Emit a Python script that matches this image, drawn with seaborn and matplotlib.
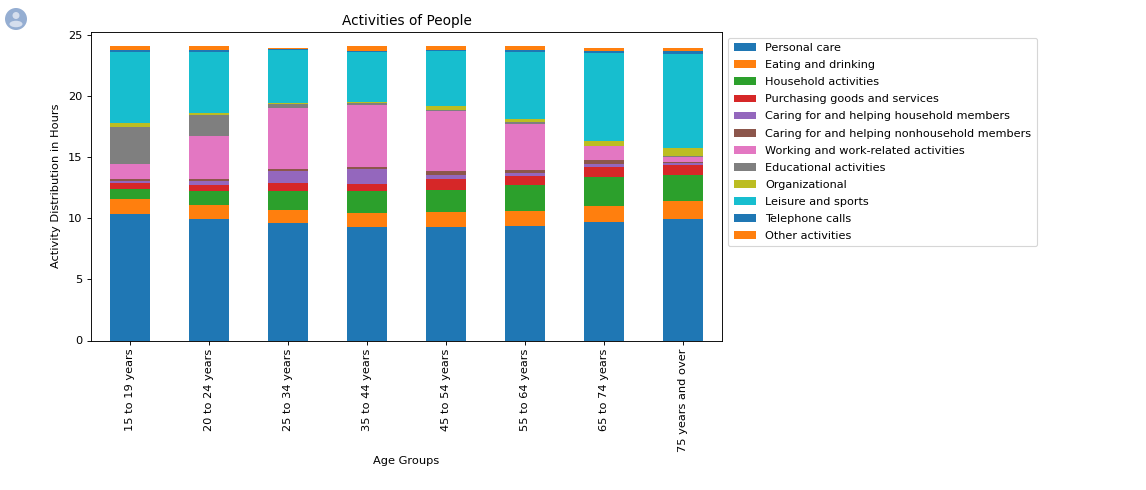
import numpy as np
import matplotlib
matplotlib.use("Agg")
from matplotlib import pyplot as plt
from matplotlib.patches import Circle, Ellipse
from matplotlib.transforms import IdentityTransform
import seaborn as sns

age_groups = ['15 to 19 years', '20 to 24 years', '25 to 34 years', '35 to 44 years',
              '45 to 54 years', '55 to 64 years', '65 to 74 years', '75 years and over']

personal_care = [10.34, 9.96, 9.60, 9.30, 9.30, 9.41, 9.69, 9.96]
eating = [1.23, 1.12, 1.10, 1.12, 1.23, 1.20, 1.31, 1.42]
household = [0.82, 1.12, 1.50, 1.78, 1.75, 2.14, 2.40, 2.13]
purchasing = [0.54, 0.55, 0.73, 0.65, 0.96, 0.73, 0.82, 0.82]
caring_hh = [0.13, 0.32, 0.94, 1.21, 0.33, 0.19, 0.22, 0.16]
caring_nonhh = [0.18, 0.17, 0.19, 0.11, 0.30, 0.31, 0.36, 0.14]
working = [1.20, 3.52, 5.00, 5.08, 4.91, 3.77, 1.09, 0.41]
educational = [3.06, 1.72, 0.27, 0.16, 0.11, 0.13, 0.03, 0.03]
organizational = [0.27, 0.14, 0.14, 0.14, 0.28, 0.28, 0.43, 0.65]
leisure = [5.83, 4.98, 4.28, 4.04, 4.56, 5.46, 7.16, 7.71]
telephone = [0.20, 0.20, 0.09, 0.14, 0.08, 0.19, 0.22, 0.30]
other = [0.28, 0.28, 0.14, 0.35, 0.27, 0.27, 0.25, 0.25]

series = [('Personal care', personal_care),
          ('Eating and drinking', eating),
          ('Household activities', household),
          ('Purchasing goods and services', purchasing),
          ('Caring for and helping household members', caring_hh),
          ('Caring for and helping nonhousehold members', caring_nonhh),
          ('Working and work-related activities', working),
          ('Educational activities', educational),
          ('Organizational', organizational),
          ('Leisure and sports', leisure),
          ('Telephone calls', telephone),
          ('Other activities', other)]

colors = sns.color_palette('tab10')

DPI = 81.5
fig = plt.figure(figsize=(1146 / DPI, 490 / DPI), dpi=DPI)
ax = fig.add_axes([90.5 / 1146, 1 - 340.5 / 490, 632 / 1146, 308.5 / 490])

# stack the bars by hand, seaborn has no stacked barplot
bottom = np.zeros(len(age_groups))
for i, (name, vals) in enumerate(series):
    sns.barplot(x=age_groups, y=vals, bottom=bottom, color=colors[i % 10], saturation=1,
                width=0.5, label=name, ax=ax, linewidth=0, legend=False)
    bottom = bottom + np.array(vals)

ax.set_xlim(-0.5, 7.5)
ax.set_ylim(0, 25.25)
ax.tick_params(axis='x', rotation=90)
ax.set_title('Activities of People')
ax.set_xlabel('Age Groups')
ax.set_ylabel('Activity Distribution in Hours', labelpad=6)

handles, labels = ax.get_legend_handles_labels()
ax.legend(handles[:12], labels[:12], loc='upper left', bbox_to_anchor=(1.0, 1.0),
          fontsize=9.9, labelspacing=0.63, borderpad=0.5)

# avatar icon in the corner of the screenshot
px = IdentityTransform()
fig.add_artist(Circle((16, 490 - 19), 11, transform=px, color='#95aed2', lw=0))
fig.add_artist(Circle((16, 490 - 15.5), 3.5, transform=px, color='#d5deed', lw=0))
fig.add_artist(Ellipse((16, 490 - 24), 13, 6.5, transform=px, color='#d5deed', lw=0))

fig.savefig('out.png', dpi=DPI)
